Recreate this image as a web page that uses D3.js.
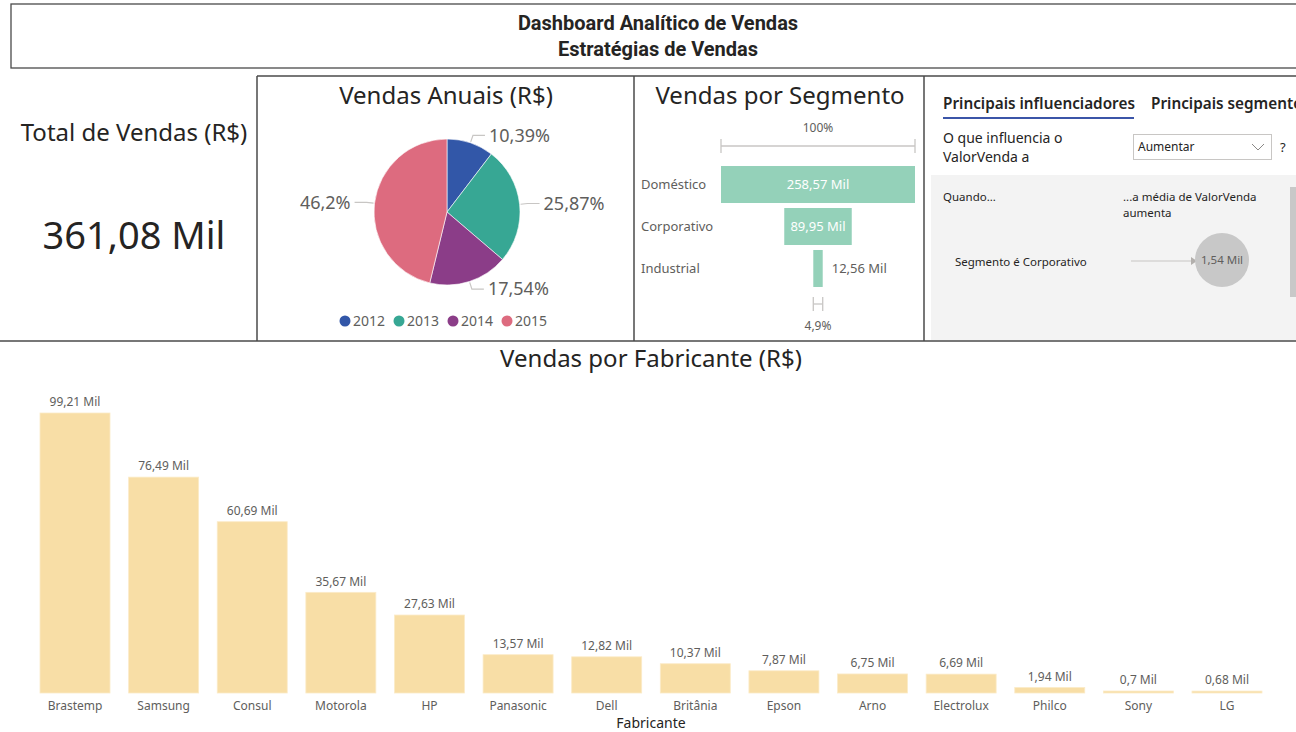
<!DOCTYPE html>
<html><head><meta charset="utf-8">
<script src="https://cdn.jsdelivr.net/npm/d3@7"></script>
<style>
html,body{margin:0;padding:0;background:#fff;}
svg{display:block;font-family:"Segoe UI","Noto Sans","Open Sans",sans-serif;}
</style></head>
<body><svg id="c" width="1296" height="732"></svg>
<script>
// ---------- data ----------
const headerLines = ["Dashboard Analítico de Vendas", "Estratégias de Vendas"];
const totalSales = 361.08;
const years = ["2012", "2013", "2014", "2015"];
const yearShare = [10.39, 25.87, 17.54, 46.2];
const yearColors = ["#3257A8", "#37A794", "#8B3D88", "#DD6B7F"];
const segments = ["Doméstico", "Corporativo", "Industrial"];
const segmentValues = [258.57, 89.95, 12.56];
const manufacturers = ["Brastemp","Samsung","Consul","Motorola","HP","Panasonic","Dell","Britânia","Epson","Arno","Electrolux","Philco","Sony","LG"];
const manufacturerValues = [99.21, 76.49, 60.69, 35.67, 27.63, 13.57, 12.82, 10.37, 7.87, 6.75, 6.69, 1.94, 0.7, 0.68];
const influencer = {field: "Segmento é Corporativo", value: 1.54};

// ---------- helpers ----------
const loc = d3.formatLocale({decimal: ",", thousands: ".", grouping: [3], currency: ["R$", ""]});
const f2 = loc.format(".2~f");
const f1 = loc.format(".1~f");
const mil = v => f2(v) + " Mil";
const svg = d3.select("#c");
const dark = "#252423", gray = "#605E5C", border = "#4a4a4a";

// ---------- header ----------
svg.append("rect").attr("x", 11).attr("y", 4).attr("width", 1300).attr("height", 64)
  .attr("fill", "#fff").attr("stroke", border).attr("stroke-width", 1.3);
svg.selectAll(".hdr").data(headerLines).join("text")
  .attr("x", 658).attr("y", (d, i) => 30 + i * 26).attr("text-anchor", "middle")
  .attr("font-family", "'Liberation Sans Narrow','Roboto',sans-serif")
  .attr("font-weight", "bold").attr("font-size", 20).attr("fill", dark).text(d => d);

// ---------- panel borders ----------
const lines = [[257,76,1296,76],[257,76,257,341],[634,76,634,341],[924,76,924,341],[0,341,1296,341]];
svg.selectAll(".bl").data(lines).join("line")
  .attr("x1", d => d[0]).attr("y1", d => d[1]).attr("x2", d => d[2]).attr("y2", d => d[3])
  .attr("stroke", border).attr("stroke-width", 1.5);

// ---------- total card ----------
svg.append("text").attr("x", 134).attr("y", 141).attr("text-anchor", "middle")
  .attr("font-size", 24).attr("fill", dark).text("Total de Vendas (R$)");
svg.append("text").attr("x", 134).attr("y", 249).attr("text-anchor", "middle")
  .attr("font-size", 38).attr("fill", dark).text(mil(totalSales));

// ---------- pie ----------
svg.append("text").attr("x", 446).attr("y", 104).attr("text-anchor", "middle")
  .attr("font-size", 24).attr("fill", dark).text("Vendas Anuais (R$)");
const pcx = 447, pcy = 212, pr = 73;
const pieData = d3.pie().sort(null).value(d => d)(yearShare);
const arc = d3.arc().innerRadius(0).outerRadius(pr);
const pg = svg.append("g").attr("transform", `translate(${pcx},${pcy})`);
pg.selectAll("path").data(pieData).join("path").attr("d", arc)
  .attr("fill", (d, i) => yearColors[i]).attr("stroke", "#fff").attr("stroke-width", 0.6);
pieData.forEach((d, i) => {
  const a = (d.startAngle + d.endAngle) / 2;
  const s = Math.sin(a), c = -Math.cos(a);
  const p1 = [s * (pr + 1), c * (pr + 1)], p2 = [s * (pr + 8), c * (pr + 8)];
  const right = s >= 0;
  const p3 = [p2[0] + (right ? 12 : -12), p2[1]];
  pg.append("polyline").attr("points", [p1, p2, p3].map(p => p.join(",")).join(" "))
    .attr("fill", "none").attr("stroke", "#c8c6c4").attr("stroke-width", 1.2);
  pg.append("text").attr("x", p3[0] + (right ? 4 : -4)).attr("y", p3[1]).attr("dy", "0.35em")
    .attr("text-anchor", right ? "start" : "end").attr("font-size", 18).attr("fill", gray)
    .text(f2(yearShare[i]) + "%");
});
// legend
const legX = [345, 399, 453, 507];
const lg = svg.selectAll(".lg").data(years).join("g").attr("transform", (d, i) => `translate(${legX[i]},321)`);
lg.append("circle").attr("r", 5.5).attr("fill", (d, i) => yearColors[i]);
lg.append("text").attr("x", 8).attr("dy", "0.35em").attr("font-size", 14).attr("fill", gray).text(d => d);

// ---------- funnel ----------
svg.append("text").attr("x", 780).attr("y", 104).attr("text-anchor", "middle")
  .attr("font-size", 24).attr("fill", dark).text("Vendas por Segmento");
const fcx = 818;
const fx = d3.scaleLinear().domain([0, d3.max(segmentValues)]).range([0, 194]);
const fy = d3.scaleBand().domain(segments).range([163.5, 289.5]).paddingInner(0.119).paddingOuter(0.06);
svg.selectAll(".fb").data(segments).join("rect")
  .attr("x", (d, i) => fcx - fx(segmentValues[i]) / 2).attr("y", d => fy(d))
  .attr("width", (d, i) => fx(segmentValues[i])).attr("height", fy.bandwidth()).attr("fill", "#94D1B9");
svg.selectAll(".fc").data(segments).join("text")
  .attr("x", 641).attr("y", d => fy(d) + fy.bandwidth() / 2).attr("dy", "0.35em")
  .attr("font-size", 13).attr("fill", gray).text(d => d);
svg.selectAll(".fv").data(segments).join("text")
  .each(function(d, i) {
    const w = fx(segmentValues[i]);
    const inside = w > 60;
    d3.select(this).attr("x", inside ? fcx : fcx + w / 2 + 9)
      .attr("text-anchor", inside ? "middle" : "start")
      .attr("fill", inside ? "#fff" : gray);
  })
  .attr("y", d => fy(d) + fy.bandwidth() / 2).attr("dy", "0.35em").attr("font-size", 13).text((d, i) => mil(segmentValues[i]));
// brackets
const topW = fx(segmentValues[0]), botW = fx(segmentValues[segmentValues.length - 1]);
function bracket(w, y, h) {
  const g = svg.append("g").attr("stroke", "#c8c6c4").attr("stroke-width", 1.3);
  g.append("line").attr("x1", fcx - w / 2).attr("x2", fcx + w / 2).attr("y1", y).attr("y2", y);
  g.append("line").attr("x1", fcx - w / 2).attr("x2", fcx - w / 2).attr("y1", y - h).attr("y2", y + h);
  g.append("line").attr("x1", fcx + w / 2).attr("x2", fcx + w / 2).attr("y1", y - h).attr("y2", y + h);
}
bracket(topW, 146, 7);
bracket(botW, 304, 7);
svg.append("text").attr("x", fcx).attr("y", 128).attr("dy", "0.35em").attr("text-anchor", "middle")
  .attr("font-size", 12).attr("fill", gray).text("100%");
svg.append("text").attr("x", fcx).attr("y", 326).attr("dy", "0.35em").attr("text-anchor", "middle")
  .attr("font-size", 12).attr("fill", gray)
  .text(f1(segmentValues[segmentValues.length - 1] / segmentValues[0] * 100) + "%");

// ---------- key influencers ----------
const ki = svg.append("g");
ki.append("text").attr("x", 943).attr("y", 109).attr("font-size", 15.3).attr("font-weight", 600).attr("fill", dark).text("Principais influenciadores");
ki.append("text").attr("x", 1151).attr("y", 109).attr("font-size", 15.3).attr("font-weight", 600).attr("fill", dark).text("Principais segmentos");
ki.append("rect").attr("x", 943).attr("y", 117).attr("width", 191).attr("height", 2).attr("fill", "#3B55A8");
ki.append("text").attr("x", 943).attr("y", 143).attr("font-size", 14).attr("fill", dark).text("O que influencia o");
ki.append("text").attr("x", 943).attr("y", 162).attr("font-size", 14).attr("fill", dark).text("ValorVenda a");
ki.append("rect").attr("x", 1133.5).attr("y", 134.5).attr("width", 138).attr("height", 25).attr("fill", "#fff").attr("stroke", "#c8c6c4");
ki.append("text").attr("x", 1138).attr("y", 147).attr("dy", "0.35em").attr("font-size", 12).attr("fill", dark).text("Aumentar");
ki.append("polyline").attr("points", "1252,144 1258,150 1264,144").attr("fill", "none").attr("stroke", "#8a8886").attr("stroke-width", 1);
ki.append("text").attr("x", 1280).attr("y", 147).attr("dy", "0.35em").attr("font-size", 13).attr("fill", dark).text("?");
ki.append("rect").attr("x", 931).attr("y", 175).attr("width", 365).attr("height", 165).attr("fill", "#F3F3F3");
ki.append("rect").attr("x", 1290).attr("y", 187).attr("width", 6).attr("height", 110).attr("fill", "#C8C8C8");
ki.append("text").attr("x", 943).attr("y", 197).attr("dy", "0.35em").attr("font-size", 11.5).attr("fill", dark).text("Quando...");
ki.append("text").attr("x", 1123).attr("y", 197).attr("dy", "0.35em").attr("font-size", 11.5).attr("fill", dark).text("...a média de ValorVenda");
ki.append("text").attr("x", 1123).attr("y", 213).attr("dy", "0.35em").attr("font-size", 11.5).attr("fill", dark).text("aumenta");
ki.append("text").attr("x", 955).attr("y", 262).attr("dy", "0.35em").attr("font-size", 11.5).attr("fill", dark).text(influencer.field);
ki.append("line").attr("x1", 1131).attr("x2", 1192).attr("y1", 261).attr("y2", 261).attr("stroke", "#c8c6c4").attr("stroke-width", 1.2);
ki.append("path").attr("d", "M1191,257 L1197,261 L1191,265 Z").attr("fill", "#b3b0ad");
ki.append("circle").attr("cx", 1222).attr("cy", 260).attr("r", 27).attr("fill", "#C8C8C8");
ki.append("text").attr("x", 1222).attr("y", 260).attr("dy", "0.35em").attr("text-anchor", "middle").attr("font-size", 11.5).attr("fill", gray).text(mil(influencer.value));

// ---------- bar chart ----------
svg.append("text").attr("x", 651).attr("y", 367).attr("text-anchor", "middle")
  .attr("font-size", 24).attr("fill", dark).text("Vendas por Fabricante (R$)");
const bx = d3.scaleBand().domain(manufacturers).range([30.7, 1271.3]).paddingInner(0.21).paddingOuter(0.105);
const by = d3.scaleLinear().domain([0, 99.21]).range([693, 413]);
const bars = svg.append("g");
bars.selectAll("rect").data(manufacturers).join("rect")
  .attr("x", d => bx(d)).attr("width", bx.bandwidth())
  .attr("y", (d, i) => by(manufacturerValues[i])).attr("height", (d, i) => Math.max(1.5, by(0) - by(manufacturerValues[i])))
  .attr("fill", "#F8DEA6").attr("stroke", "#FBEBC8").attr("stroke-width", 0.8);
bars.selectAll(".bv").data(manufacturers).join("text")
  .attr("x", d => bx(d) + bx.bandwidth() / 2).attr("y", (d, i) => Math.min(by(manufacturerValues[i]), 691.5) - 11)
  .attr("dy", "0.35em").attr("text-anchor", "middle").attr("font-size", 12).attr("fill", gray)
  .text((d, i) => mil(manufacturerValues[i]));
const xAxis = svg.append("g").attr("transform", "translate(0,693)")
  .call(d3.axisBottom(bx).tickSize(0).tickPadding(8));
xAxis.select(".domain").remove();
xAxis.selectAll("text").attr("font-size", 12).attr("fill", gray).attr("font-family", "'Segoe UI','Noto Sans',sans-serif");
svg.append("text").attr("x", 651).attr("y", 723).attr("dy", "0.35em").attr("text-anchor", "middle")
  .attr("font-size", 14).attr("fill", dark).text("Fabricante");
</script></body></html>
